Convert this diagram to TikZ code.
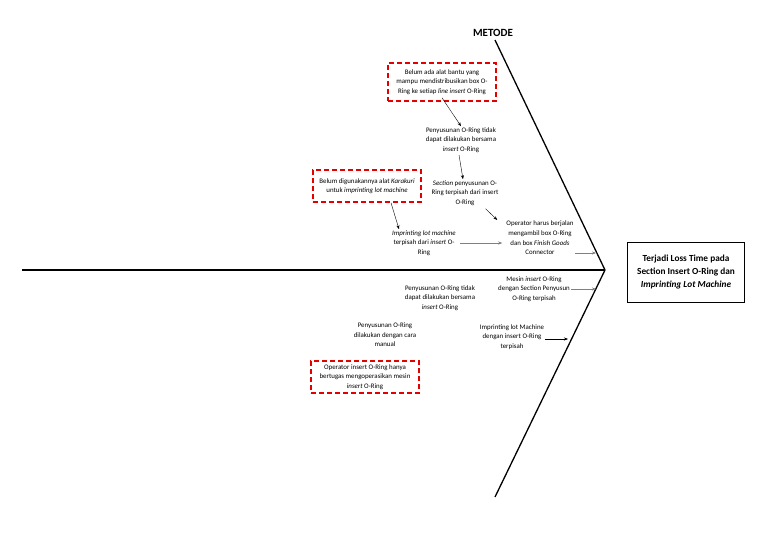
\documentclass[tikz,border=0pt]{standalone}
\usepackage{fontspec}
\setmainfont{Carlito}
\usetikzlibrary{arrows.meta}
\begin{document}
\begin{tikzpicture}[x=1pt,y=-1pt,
  t/.style={align=center,font=\fontsize{6.9}{9.6}\selectfont,inner sep=1pt},
  red/.style={t,draw=red!90!black,dashed,line width=1.6pt,dash pattern=on 5pt off 3pt,minimum width=108pt,minimum height=32pt},
  ar/.style={-{Stealth[length=4pt,width=3pt]},line width=0.4pt},
  gar/.style={ar,draw=gray}]
\useasboundingbox (0,0) rectangle (768,543);
\coordinate (sL) at (22,270);
\coordinate (sR) at (605,270);
\coordinate (uT) at (495,40);
\coordinate (lB) at (495,497);
\draw[line width=1.3pt] (sL) -- (sR);
\draw[line width=1.3pt] (uT) -- (sR) -- (lB);
\node[draw,line width=0.8pt,minimum width=117pt,minimum height=60pt,align=center,font=\fontsize{9.3}{13}\selectfont\bfseries] (head) at (686,272) {Terjadi Loss Time pada\\Section Insert O-Ring dan\\\textit{Imprinting Lot Machine}};
\node[font=\fontsize{11}{13}\selectfont\bfseries] (met) at (493,33) {METODE};
\node[red,minimum height=38pt] (r1) at (442,82) {Belum ada alat bantu yang\\mampu mendistribusikan box O-\\Ring ke setiap \textit{line insert} O-Ring};
\node[t] (a1) at (461,140) {Penyusunan O-Ring tidak\\dapat dilakukan bersama\\\textit{insert} O-Ring};
\node[t] (a2) at (465,193) {\textit{Section} penyusunan O-\\Ring terpisah dari insert\\O-Ring};
\node[t] (a3) at (540,238) {Operator harus berjalan\\mengambil box O-Ring\\dan box \textit{Finish Goods}\\Connector};
\node[red] (r2) at (367,186) {Belum digunakannya alat \textit{Karakuri}\\untuk \textit{imprinting lot machine}};
\node[t] (b1) at (424,243) {\textit{Imprinting lot machine}\\terpisah dari \textit{insert} O-\\Ring};
\node[t] (c1) at (534,289) {Mesin \textit{insert} O-Ring\\dengan Section Penyusun\\O-Ring terpisah};
\node[t] (c2) at (440,298) {Penyusunan O-Ring tidak\\dapat dilakukan bersama\\\textit{insert} O-Ring};
\node[t] (c3) at (385,335) {Penyusunan O-Ring\\dilakukan dengan cara\\manual};
\node[t] (c4) at (512,337) {Imprinting lot Machine\\dengan insert O-Ring\\terpisah};
\node[red] (r3) at (365,377) {Operator insert O-Ring hanya\\bertugas mengoperasikan mesin\\\textit{insert} O-Ring};
\coordinate (e1) at (596,253);
\coordinate (e2) at (596,289);
\coordinate (e3) at (568,339);
\draw[ar] (r1.south) ++(0,-4) -- (a1.north);
\draw[ar] (a1) ++(-2,15) -- ([xshift=-2pt]a2.north);
\draw[ar] (a2.south east) ++(-14,2) -- ([xshift=-8pt]a3.north west);
\draw[gar] (a3.east) ++(0,15) -- (e1);
\draw[ar] ([xshift=24pt]r2.south) -- ([xshift=-25pt]b1.north);
\draw[gar] (b1.east) ++(3,0) -- ([xshift=-3pt]a3.west |- b1.east);
\draw[gar] (c1.east) -- (e2);
\draw[ar] (c4.east) ++(0,2) -- (e3);
\end{tikzpicture}
\end{document}
